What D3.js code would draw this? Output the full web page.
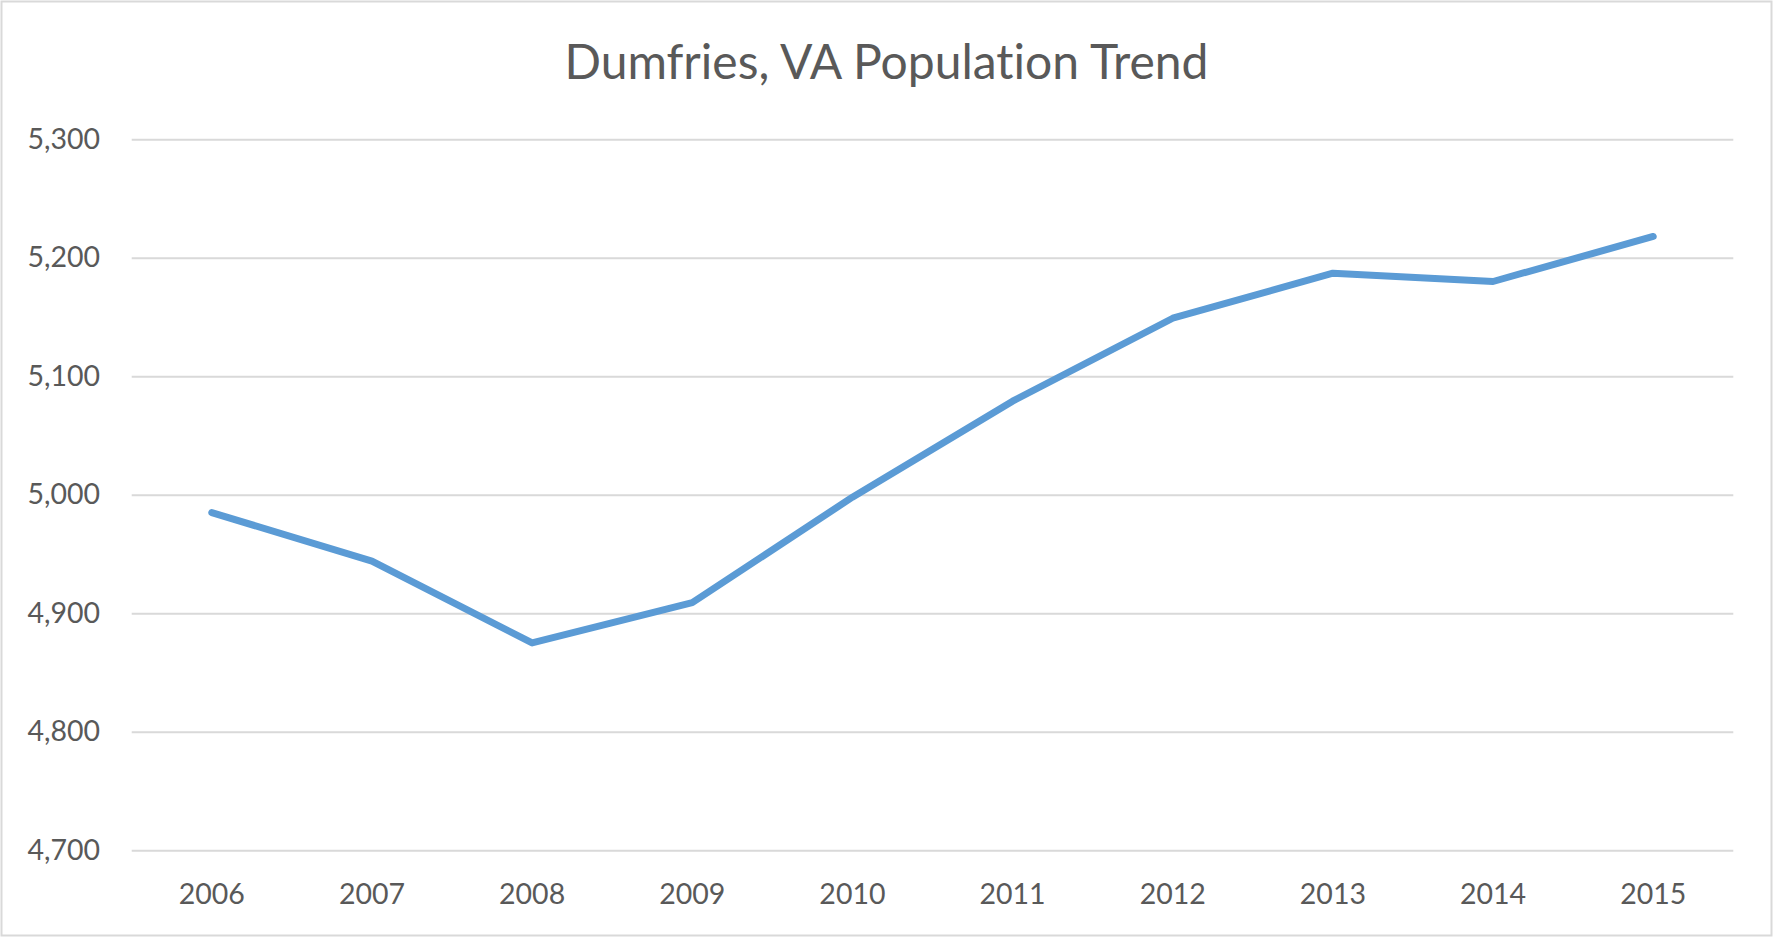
<!DOCTYPE html>
<html>
<head>
<meta charset="utf-8">
<script src="https://cdn.jsdelivr.net/npm/d3@7"></script>
<style>
  html, body { margin: 0; padding: 0; background: #ffffff; }
  svg { display: block; }
  text { font-family: Lato, "Open Sans", sans-serif; fill: #595959; font-variant-ligatures: none; font-feature-settings: "liga" 0, "clig" 0; }
</style>
</head>
<body>
<svg id="chart" width="1773" height="937"></svg>
<script>
const title = "Dumfries, VA Population Trend";
const years = ["2006", "2007", "2008", "2009", "2010", "2011", "2012", "2013", "2014", "2015"];
const population = [4985, 4944, 4875, 4909, 4998, 5079, 5149, 5187, 5180, 5218];
const yTicks = [4700, 4800, 4900, 5000, 5100, 5200, 5300];

const W = 1773, H = 937;
const plot = { left: 131.7, right: 1733.3, top: 139.3, bottom: 850.3 };

const svg = d3.select("#chart");

// outer chart border
svg.append("rect")
  .attr("x", 1.5).attr("y", 1.5)
  .attr("width", W - 3).attr("height", H - 3)
  .attr("fill", "#ffffff")
  .attr("stroke", "#d9d9d9").attr("stroke-width", 2);

const x = d3.scaleBand().domain(years).range([plot.left, plot.right]);
const y = d3.scaleLinear().domain([4700, 5300]).range([plot.bottom, plot.top]);

// gridlines
const grid = svg.append("g")
  .attr("transform", `translate(${plot.left},0)`)
  .call(d3.axisLeft(y).tickValues(yTicks).tickSize(-(plot.right - plot.left)).tickFormat(""));
grid.select(".domain").remove();
grid.selectAll(".tick line").attr("stroke", "#d9d9d9").attr("stroke-width", 2);

// y axis labels
const yAxis = svg.append("g")
  .attr("transform", `translate(${plot.left},0)`)
  .call(d3.axisLeft(y).tickValues(yTicks).tickSize(0).tickPadding(31.7).tickFormat(d3.format(",")));
yAxis.select(".domain").remove();
yAxis.selectAll("text")
  .attr("font-size", 28.5).attr("fill", "#595959")
  .style("font-family", "Lato, 'Open Sans', sans-serif");

// x axis labels
const xAxis = svg.append("g")
  .attr("transform", `translate(0,${plot.bottom})`)
  .call(d3.axisBottom(x).tickSize(0));
xAxis.select(".domain").remove();
xAxis.selectAll("text")
  .attr("y", 53.7).attr("dy", 0)
  .attr("font-size", 28.5).attr("fill", "#595959")
  .style("font-family", "Lato, 'Open Sans', sans-serif");

// line
const line = d3.line()
  .x((d, i) => x(years[i]) + x.bandwidth() / 2)
  .y(d => y(d));

svg.append("path")
  .datum(population)
  .attr("d", line)
  .attr("fill", "none")
  .attr("stroke", "#5b9bd5")
  .attr("stroke-width", 7)
  .attr("stroke-linejoin", "round")
  .attr("stroke-linecap", "round");

// title
svg.append("text")
  .attr("x", W / 2).attr("y", 79)
  .attr("text-anchor", "middle")
  .attr("font-size", 48)
  .attr("fill", "#595959")
  .text(title);
</script>
</body>
</html>
